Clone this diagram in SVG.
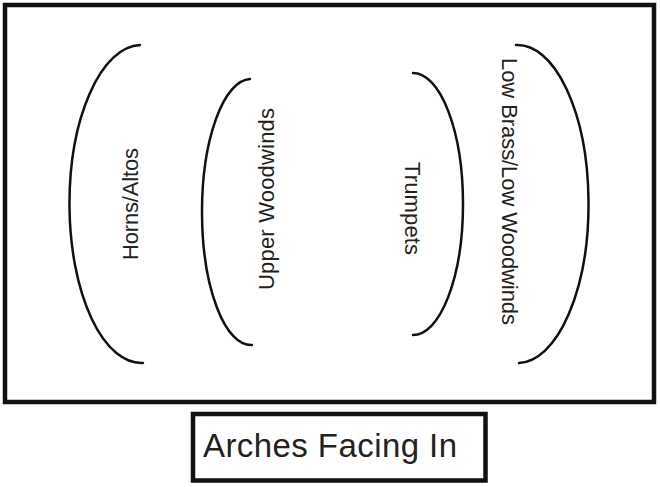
<svg xmlns="http://www.w3.org/2000/svg" width="660" height="487" viewBox="0 0 660 487">
<style>
.frame{fill:#fff;stroke:#111;stroke-width:4.5}
.arc{fill:none;stroke:#111;stroke-width:2.5;stroke-linecap:round}
.lbl{font-family:"Liberation Sans",Arial,sans-serif;font-size:22px;fill:#222;text-anchor:middle}
.title{font-family:"Liberation Sans",Arial,sans-serif;font-size:33px;fill:#222}
</style>
<rect width="660" height="487" fill="#fff"/>
<g id="stage"><rect class="frame" x="5" y="5" width="649" height="397"/></g>
<g id="connectors">
<path class="arc" d="M140,45 A72,159 0 0 0 143,363"/>
<path class="arc" d="M250,79 A49,133 0 0 0 252,345"/>
<path class="arc" d="M413,73 A50,131 0 0 1 413,335"/>
<path class="arc" d="M516,45 A71,159 0 0 1 519,363"/>
</g>
<g id="horns"><text class="lbl" transform="translate(138,204) rotate(-90)" textLength="112">Horns/Altos</text></g>
<g id="upper-woodwinds"><text class="lbl" transform="translate(274,199) rotate(-90)" textLength="182">Upper Woodwinds</text></g>
<g id="trumpets"><text class="lbl" transform="translate(405,208.5) rotate(90)" textLength="93">Trumpets</text></g>
<g id="low-brass"><text class="lbl" transform="translate(502,191.5) rotate(90)" textLength="267">Low Brass/Low Woodwinds</text></g>
<g id="caption">
<rect class="frame" x="193" y="414" width="292.5" height="66.5"/>
<text class="title" x="203" y="457" textLength="254">Arches Facing In</text>
</g>
</svg>
